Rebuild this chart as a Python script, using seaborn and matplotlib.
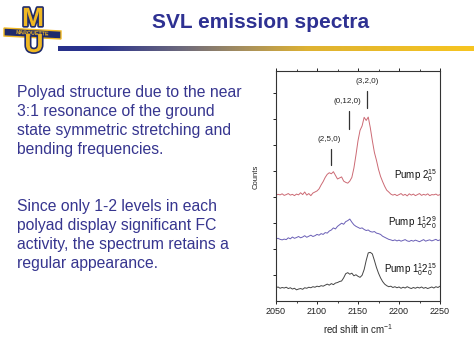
import numpy as np
import pandas as pd
import seaborn as sns
import matplotlib.pyplot as plt
import matplotlib.patheffects as pe
from matplotlib.colors import LinearSegmentedColormap
from matplotlib.ticker import MultipleLocator

# spectra sampled every 2.5 cm-1 from 2050 to 2250
shift = np.arange(2050, 2250.1, 2.5)

pump_2_15 = [3.06, 3.09, 3.07, 3.11, 3.05, 3.08, 3.12, 3.06, 3.09, 3.04,
             3.10, 3.07, 3.15, 3.08, 3.18, 3.06, 3.12, 3.04, 3.14, 3.18,
             3.22, 3.30, 3.45, 3.58, 3.74, 3.86, 3.92, 3.88, 3.96, 3.82,
             3.68, 3.72, 3.76, 3.60, 3.55, 3.52, 3.60, 3.74, 4.10, 4.60,
             5.15, 5.55, 5.72, 6.05, 5.93, 6.06, 5.65, 5.15, 4.70, 4.40,
             4.05, 3.78, 3.58, 3.40, 3.25, 3.18, 3.10, 3.06, 3.09, 3.04,
             3.08, 3.12, 3.05, 3.09, 3.03, 3.11, 3.06, 3.10, 3.04, 3.08,
             3.12, 3.05, 3.09, 3.06, 3.11, 3.04, 3.08, 3.07, 3.10, 3.05,
             3.08]

pump_1_2_9 = [1.38, 1.40, 1.36, 1.34, 1.37, 1.35, 1.42, 1.38, 1.45, 1.40,
              1.43, 1.47, 1.42, 1.45, 1.50, 1.44, 1.48, 1.52, 1.47, 1.50,
              1.55, 1.52, 1.58, 1.55, 1.62, 1.60, 1.68, 1.72, 1.80, 1.76,
              1.86, 1.92, 1.98, 1.94, 2.04, 2.08, 2.14, 2.02, 1.92, 1.86,
              1.82, 1.78, 1.80, 1.74, 1.70, 1.72, 1.66, 1.64, 1.66, 1.60,
              1.58, 1.55, 1.48, 1.44, 1.40, 1.36, 1.34, 1.31, 1.34, 1.30,
              1.33, 1.29, 1.32, 1.35, 1.30, 1.28, 1.32, 1.29, 1.33, 1.30,
              1.27, 1.31, 1.35, 1.29, 1.32, 1.34, 1.30, 1.33, 1.36, 1.31,
              1.34]

pump_1_2_15 = [-0.50, -0.47, -0.52, -0.49, -0.51, -0.48, -0.53, -0.50, -0.55, -0.52,
               -0.58, -0.55, -0.53, -0.56, -0.50, -0.52, -0.48, -0.50, -0.46, -0.48,
               -0.44, -0.46, -0.42, -0.44, -0.40, -0.36, -0.40, -0.34, -0.38, -0.32,
               -0.30, -0.26, -0.24, -0.12, 0.04, 0.08, 0.02, 0.06, -0.04, 0.00,
               -0.06, -0.10, -0.02, 0.20, 0.55, 0.84, 0.86, 0.80, 0.55, 0.28,
               0.06, -0.12, -0.26, -0.36, -0.42, -0.46, -0.44, -0.49, -0.46, -0.50,
               -0.47, -0.52, -0.48, -0.51, -0.46, -0.50, -0.53, -0.49, -0.52, -0.48,
               -0.51, -0.47, -0.52, -0.49, -0.53, -0.50, -0.47, -0.51, -0.46, -0.49,
               -0.44]

# peak assignments: label, position, line bottom, line top, text position
peak_labels = ['(2,5,0)', '(0,12,0)', '(3,2,0)']
peak_pos = [2116.7, 2139.4, 2160.6]
peak_text_x = [2114.6, 2136.6, 2160.6]
peak_line_lo = [4.20, 5.62, 6.39]
peak_line_hi = [4.82, 6.29, 7.06]
peak_text_y = [5.20, 6.66, 7.43]

pump_labels = [r'Pump $2_0^{15}$', r'Pump $1_0^1 2_0^9$', r'Pump $1_0^1 2_0^{15}$']
pump_label_y = [3.69, 1.89, 0.065]

bullets = [['Polyad structure due to the near',
            '3:1 resonance of the ground',
            'state symmetric stretching and',
            'bending frequencies.'],
           ['Since only 1-2 levels in each',
            'polyad display significant FC',
            'activity, the spectrum retains a',
            'regular appearance.']]

sns.set_style('ticks')
plt.rcParams['font.family'] = ['Liberation Sans', 'DejaVu Sans']
plt.rcParams['mathtext.fontset'] = 'custom'
plt.rcParams['mathtext.rm'] = 'Liberation Sans'
plt.rcParams['mathtext.it'] = 'Liberation Sans:italic'
plt.rcParams['mathtext.bf'] = 'Liberation Sans:bold'

W, H = 474, 355
fig = plt.figure(figsize=(W / 100, H / 100), dpi=100)
fig.patch.set_facecolor('white')


def fx(x):
    return x / W


def fy(y):
    return 1 - y / H


navy = '#2e3192'
text_col = '#36358f'

# title
fig.text(fx(261), fy(22), 'SVL emission spectra', ha='center', va='center',
         fontsize=15, fontweight='bold', color=navy)

# gradient rule under the title
bar_ax = fig.add_axes([fx(58), fy(51), fx(474 - 58), 5 / H])
grad = LinearSegmentedColormap.from_list('rule', [(0, '#27308a'), (0.1, '#2b338e'),
                                                  (0.3, '#6e6a7c'), (0.45, '#a8905c'),
                                                  (0.6, '#deb232'), (1, '#f7c520')])
bar_ax.imshow(np.linspace(0, 1, 256)[None, :], aspect='auto', cmap=grad)
bar_ax.axis('off')

# logo
logo = fig.add_axes([fx(2), fy(58), fx(60), 55 / H])
logo.set_xlim(0, 60)
logo.set_ylim(55, 0)
logo.axis('off')
gold = '#f0b823'
stroke = [pe.Stroke(linewidth=2.4, foreground='#1f2a6b'), pe.Normal()]
logo.text(31, 16, 'M', ha='center', va='center', fontsize=19, fontweight='bold',
          color=gold, path_effects=stroke)
logo.text(32, 42, 'U', ha='center', va='center', fontsize=19, fontweight='bold',
          color=gold, path_effects=stroke)
logo.add_patch(plt.Polygon([[2, 25], [59, 28], [59, 36], [2, 33]], closed=True,
                           facecolor='#1f2a6b', edgecolor=gold, lw=1))
logo.text(30.5, 30.5, 'MARQUETTE', ha='center', va='center', fontsize=3.8,
          fontweight='bold', color=gold, rotation=-3)

# bullet text
line_y = [[96.7, 115.7, 134.7, 153.7], [210.7, 229.7, 249, 268.3]]
for para, ys in zip(bullets, line_y):
    for line, y in zip(para, ys):
        fig.text(fx(16.7), fy(y), line, ha='left', va='baseline',
                 fontsize=11.3, color=text_col)

# spectrum panel
ax = fig.add_axes([fx(276), fy(300.5), fx(164), 229.5 / H])
df = pd.DataFrame({'shift': shift, 'pump_2_15': pump_2_15,
                   'pump_1_2_9': pump_1_2_9, 'pump_1_2_15': pump_1_2_15})
sns.lineplot(data=df, x='shift', y='pump_2_15', ax=ax, color='#cc6a74', lw=0.7)
sns.lineplot(data=df, x='shift', y='pump_1_2_9', ax=ax, color='#6a5fb6', lw=0.7)
sns.lineplot(data=df, x='shift', y='pump_1_2_15', ax=ax, color='#454545', lw=0.7)

ax.set_xlim(2050, 2250)
ax.set_ylim(-0.99, 7.83)
ax.xaxis.set_major_locator(MultipleLocator(50))
ax.xaxis.set_minor_locator(MultipleLocator(25))
ax.yaxis.set_major_locator(MultipleLocator(1))
ax.set_yticklabels([])
ax.tick_params(axis='x', which='both', direction='out', top=True, bottom=True,
               labelsize=6.5, pad=2.5, colors='#222222')
ax.tick_params(axis='x', which='major', length=2.3, width=0.7)
ax.tick_params(axis='x', which='minor', length=1.5, width=0.6)
ax.tick_params(axis='y', which='major', direction='out', left=True, right=False,
               length=2.3, width=0.7, colors='#222222')
for s in ax.spines.values():
    s.set_linewidth(0.8)
    s.set_color('#333333')

ax.set_xlabel(r'red shift in cm$^{-1}$', fontsize=7, labelpad=4, color='#222222')
ax.set_ylabel('Counts', fontsize=5.5, color='#222222')
ax.yaxis.set_label_coords(-0.098, 0.537)

for lab, xp, xt, lo, hi, yt in zip(peak_labels, peak_pos, peak_text_x,
                                   peak_line_lo, peak_line_hi, peak_text_y):
    ax.plot([xp, xp], [lo, hi], color='#333333', lw=0.9)
    ax.text(xt, yt, lab, ha='center', va='center', fontsize=5.8, color='#222222')

for lab, yv in zip(pump_labels, pump_label_y):
    ax.text(2246, yv, lab, ha='right', va='baseline', fontsize=7, color='#111111')

fig.savefig('out.png', dpi=100)
